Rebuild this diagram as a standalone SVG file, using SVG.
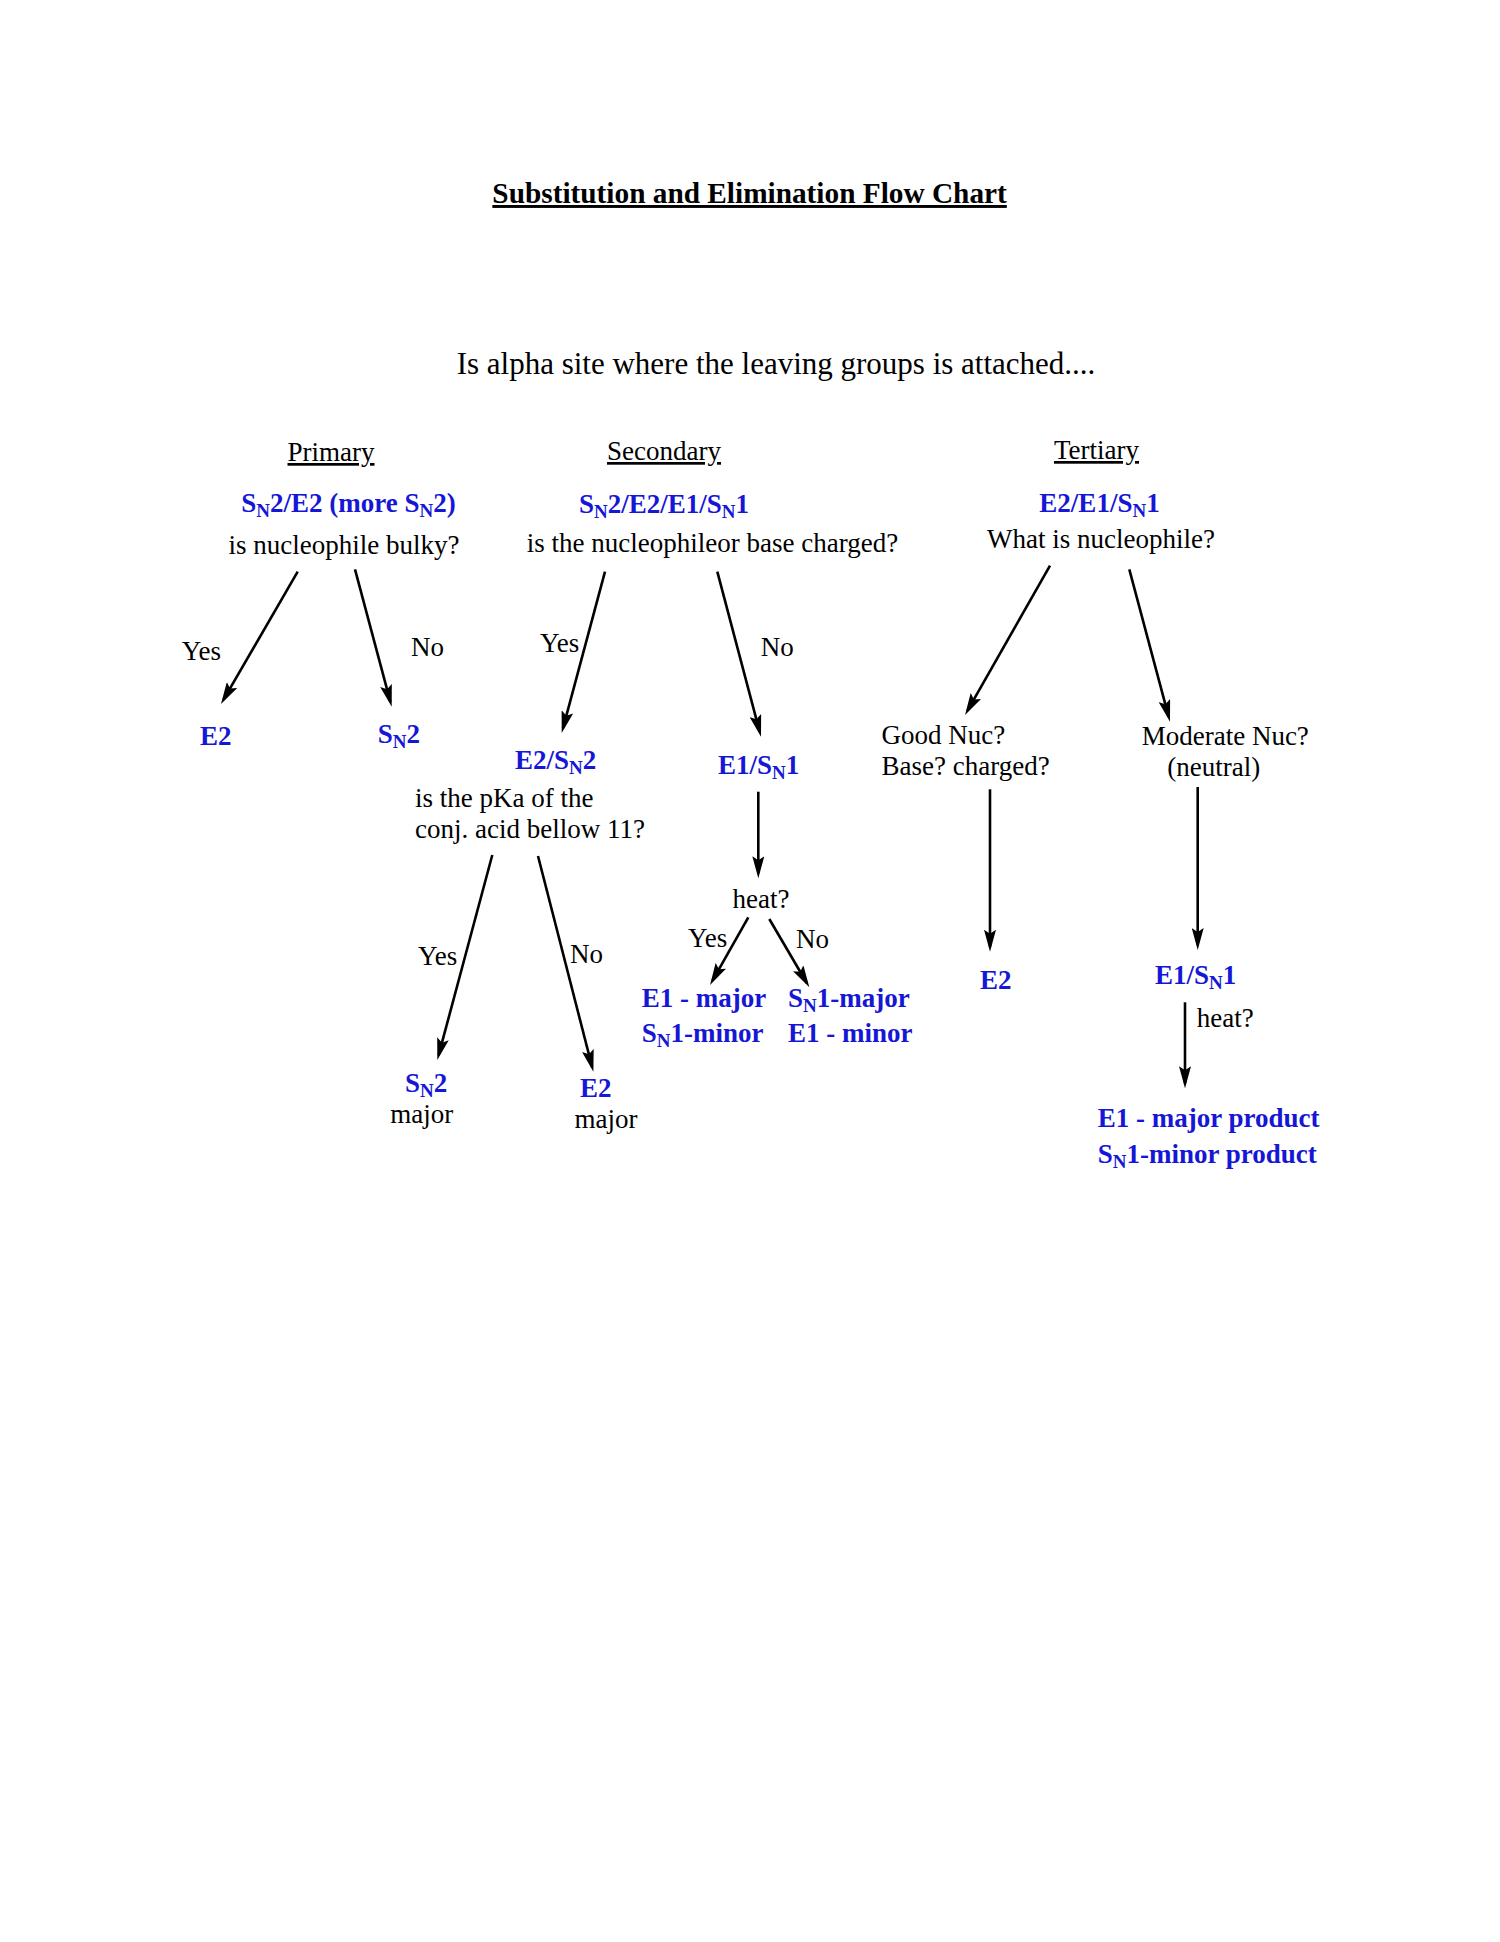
<svg xmlns="http://www.w3.org/2000/svg" width="1500" height="1942" viewBox="0 0 1500 1942">
<style>
text{font-family:"Liberation Serif","Times New Roman",serif;fill:#000;}
.t{font-size:27px;}
.big{font-size:31px;}
.title{font-size:29.3px;font-weight:bold;text-decoration:underline;}
.ul{text-decoration:underline;}
.b{font-size:27px;font-weight:bold;fill:#1616d6;}
.sub{font-size:19px;}
.c{text-anchor:middle;}
.arrow{stroke:#000;stroke-width:2.6;fill:none;marker-end:url(#ah);}
</style>
<defs>
<marker id="ah" markerUnits="userSpaceOnUse" markerWidth="22" markerHeight="12" viewBox="0 0 22 12" refX="17" refY="6" orient="auto">
<path d="M0,0 L22,6 L0,12 L4,6 z" fill="#000"/>
</marker>
</defs>
<rect x="0" y="0" width="1500" height="1942" fill="#fff"/>
<g id="title"><text class="title c" x="749.6" y="203">Substitution and Elimination Flow Chart</text></g>
<g id="question"><text class="big c" x="776" y="374">Is alpha site where the leaving groups is attached....</text></g>

<g id="primary">
<text class="t c ul" x="331" y="461">Primary</text>
<text class="b c" x="348.5" y="512">S<tspan class="sub" dy="5">N</tspan><tspan dy="-5">2/E2 (more S</tspan><tspan class="sub" dy="5">N</tspan><tspan dy="-5">2)</tspan></text>
<text class="t c" x="344" y="554">is nucleophile bulky?</text>
</g>
<g id="primary-e2"><text class="b" x="200" y="745">E2</text></g>
<g id="primary-sn2"><text class="b" x="377.7" y="743">S<tspan class="sub" dy="5">N</tspan><tspan dy="-5">2</tspan></text></g>

<g id="secondary">
<text class="t c ul" x="664" y="460">Secondary</text>
<text class="b c" x="664" y="513">S<tspan class="sub" dy="5">N</tspan><tspan dy="-5">2/E2/E1/S</tspan><tspan class="sub" dy="5">N</tspan><tspan dy="-5">1</tspan></text>
<text class="t c" x="712.5" y="552">is the nucleophileor base charged?</text>
</g>
<g id="sec-e2sn2">
<text class="b" x="515" y="769">E2/S<tspan class="sub" dy="5">N</tspan><tspan dy="-5">2</tspan></text>
<text class="t" x="415" y="807">is the pKa of the</text>
<text class="t" x="415" y="838">conj. acid bellow 11?</text>
</g>
<g id="sec-e1sn1"><text class="b" x="718" y="774">E1/S<tspan class="sub" dy="5">N</tspan><tspan dy="-5">1</tspan></text></g>
<g id="sec-sn2-major">
<text class="b" x="405" y="1092">S<tspan class="sub" dy="5">N</tspan><tspan dy="-5">2</tspan></text>
<text class="t c" x="421.7" y="1123">major</text>
</g>
<g id="sec-e2-major">
<text class="b" x="580" y="1097">E2</text>
<text class="t c" x="606" y="1128">major</text>
</g>
<g id="sec-heat"><text class="t c" x="761" y="908">heat?</text></g>
<g id="sec-heat-yes">
<text class="b" x="641.7" y="1007">E1 - major</text>
<text class="b" x="641.7" y="1042">S<tspan class="sub" dy="5">N</tspan><tspan dy="-5">1-minor</tspan></text>
</g>
<g id="sec-heat-no">
<text class="b" x="788" y="1007">S<tspan class="sub" dy="5">N</tspan><tspan dy="-5">1-major</tspan></text>
<text class="b" x="788" y="1042">E1 - minor</text>
</g>

<g id="tertiary">
<text class="t c ul" x="1096.5" y="459">Tertiary</text>
<text class="b c" x="1099.5" y="512">E2/E1/S<tspan class="sub" dy="5">N</tspan><tspan dy="-5">1</tspan></text>
<text class="t c" x="1101" y="548">What is nucleophile?</text>
</g>
<g id="ter-good">
<text class="t" x="881.5" y="744">Good Nuc?</text>
<text class="t" x="881.5" y="775">Base? charged?</text>
</g>
<g id="ter-moderate">
<text class="t" x="1141.7" y="745">Moderate Nuc?</text>
<text class="t c" x="1213.7" y="776">(neutral)</text>
</g>
<g id="ter-e2"><text class="b" x="980" y="989">E2</text></g>
<g id="ter-e1sn1"><text class="b" x="1155" y="984">E1/S<tspan class="sub" dy="5">N</tspan><tspan dy="-5">1</tspan></text></g>
<g id="ter-products">
<text class="b" x="1097.7" y="1127">E1 - major product</text>
<text class="b" x="1097.7" y="1163">S<tspan class="sub" dy="5">N</tspan><tspan dy="-5">1-minor product</tspan></text>
</g>

<g id="connectors">
<line class="arrow" x1="297.7" y1="571.7" x2="223.5" y2="699.7"/>
<line class="arrow" x1="355" y1="569.3" x2="390.4" y2="701.9"/>
<line class="arrow" x1="605" y1="571.7" x2="563" y2="728.2"/>
<line class="arrow" x1="717.3" y1="571.7" x2="759.7" y2="731.9"/>
<line class="arrow" x1="492.3" y1="855" x2="438.6" y2="1055.2"/>
<line class="arrow" x1="538" y1="856" x2="592.1" y2="1066.9"/>
<line class="arrow" x1="758.3" y1="791.7" x2="758.3" y2="873.3"/>
<line class="arrow" x1="748.3" y1="917.3" x2="712.5" y2="980.6"/>
<line class="arrow" x1="769.3" y1="919" x2="806.8" y2="983"/>
<line class="arrow" x1="1050" y1="565.7" x2="967.5" y2="710.7"/>
<line class="arrow" x1="1129.3" y1="569.3" x2="1168.7" y2="716.9"/>
<line class="arrow" x1="990" y1="789.3" x2="990" y2="946.7"/>
<line class="arrow" x1="1197.7" y1="787" x2="1197.7" y2="945"/>
<line class="arrow" x1="1185" y1="1002.3" x2="1185" y2="1083.3"/>
<text class="t" x="181.7" y="660">Yes</text>
<text class="t" x="411" y="656">No</text>
<text class="t" x="540" y="652">Yes</text>
<text class="t" x="760.7" y="656">No</text>
<text class="t" x="418" y="965">Yes</text>
<text class="t" x="570" y="963">No</text>
<text class="t" x="688" y="947">Yes</text>
<text class="t" x="796" y="948">No</text>
<text class="t" x="1196.7" y="1027">heat?</text>
</g>
</svg>
